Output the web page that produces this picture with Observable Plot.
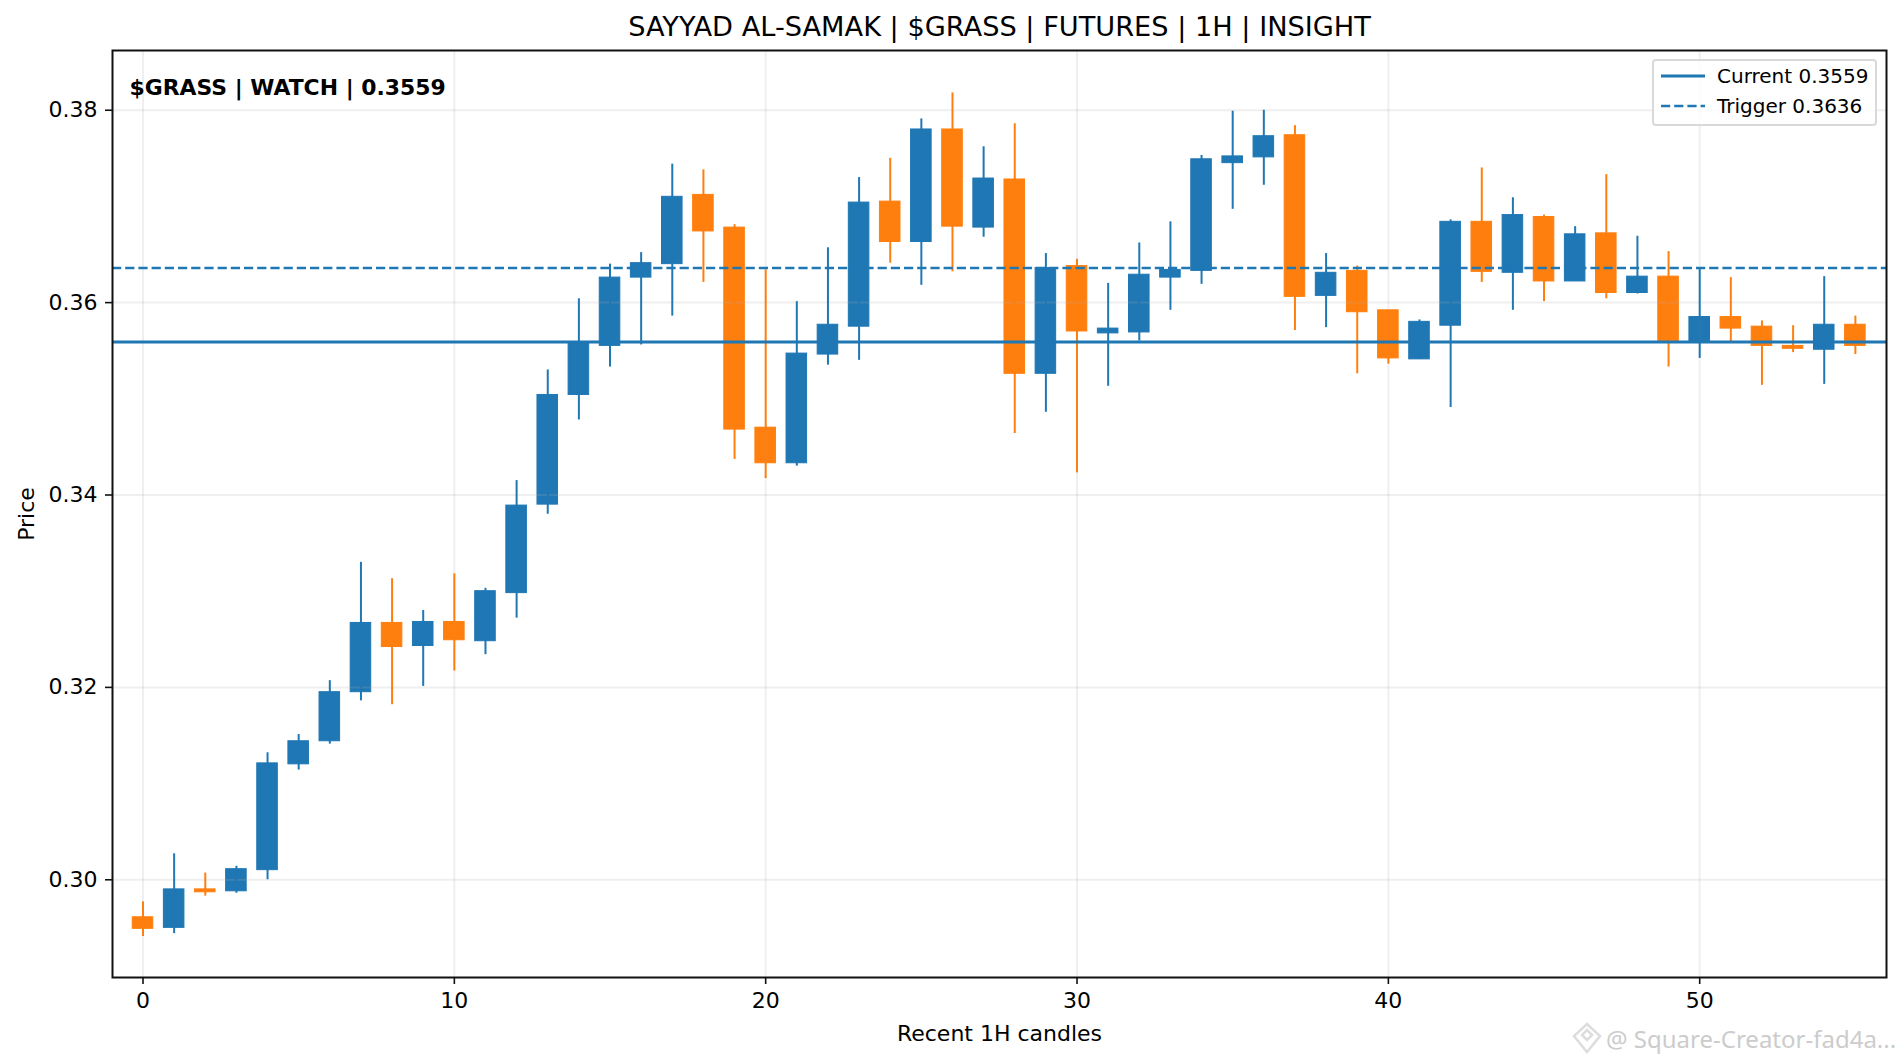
<!DOCTYPE html>
<html>
<head>
<meta charset="utf-8">
<script src="https://cdn.jsdelivr.net/npm/d3@7"></script>
<script src="https://cdn.jsdelivr.net/npm/@observablehq/plot@0.6"></script>
<style>
  html, body { margin: 0; padding: 0; background: #fff; }
  #stage { position: relative; width: 1902px; height: 1063px; overflow: hidden; font-family: "DejaVu Sans", sans-serif; }
  #legend { position: absolute; left: 1652px; top: 59px; width: 225px; height: 67px; box-sizing: border-box;
    border: 2px solid #d9d9d9; border-radius: 4px; background: rgba(255,255,255,0.8); font-size: 20px; color: #000; }
  #legend .row { position: absolute; left: 0; display: flex; align-items: center; height: 30px; }
  #legend svg { margin-left: 7px; margin-right: 12px; }
  #mark { position: absolute; left: 1572px; top: 1022px; height: 32px; display: flex; align-items: center; gap: 4px;
    color: #cccccc; font-family: "Noto Sans", sans-serif; font-size: 24px; white-space: nowrap; }
</style>
</head>
<body>
<div id="stage">
  <div id="chart"></div>
  <div id="legend">
    <div class="row" style="top:0px"><svg width="44" height="6"><line x1="0" x2="44" y1="3" y2="3" stroke="#1f77b4" stroke-width="3"/></svg><span>Current 0.3559</span></div>
    <div class="row" style="top:30px"><svg width="44" height="6"><line x1="0" x2="44" y1="3" y2="3" stroke="#1f77b4" stroke-width="2.4" stroke-dasharray="9.2,4"/></svg><span>Trigger 0.3636</span></div>
  </div>
  <div id="mark"><svg width="30" height="32" viewBox="0 0 30 32"><path d="M15 2 L28 14 L15 30 L2 14 Z M15 8 L20 13 L15 18 L10 13 Z" fill="none" stroke="#dddddd" stroke-width="2.5"/></svg><span>@ Square-Creator-fad4a...</span></div>
</div>
<script>
const high = [.2977,.3027,.3007,.3014,.3132,.3151,.3207,.3330,.3313,.3280,.3318,.3303,.3415,.3530,.3604,.3640,.3652,.3744,.3738,.3681,.3634,.3601,.3657,.3730,.3750,.3791,.3818,.3762,.3786,.3651,.3645,.3620,.3662,.3684,.3753,.3799,.3800,.3784,.3651,.3638,.3592,.3582,.3686,.3740,.3709,.3691,.3679,.3733,.3669,.3653,.3635,.3626,.3581,.3576,.3627,.3586];
const low = [.2941,.2944,.2983,.2986,.3000,.3114,.3141,.3186,.3182,.3201,.3217,.3234,.3272,.3380,.3478,.3533,.3556,.3586,.3621,.3437,.3417,.3430,.3535,.3540,.3641,.3618,.3632,.3668,.3464,.3486,.3423,.3513,.3560,.3592,.3619,.3697,.3722,.3571,.3574,.3526,.3536,.3541,.3491,.3621,.3592,.3601,.3622,.3604,.3609,.3533,.3542,.3558,.3514,.3548,.3515,.3546];
const bodyTop = [.2961,.2990,.2990,.3011,.3121,.3144,.3195,.3267,.3267,.3268,.3268,.3300,.3389,.3504,.3558,.3626,.3641,.3710,.3712,.3678,.3470,.3547,.3577,.3704,.3705,.3780,.3780,.3729,.3728,.3636,.3638,.3573,.3629,.3634,.3749,.3752,.3773,.3774,.3631,.3633,.3592,.3580,.3684,.3684,.3691,.3689,.3671,.3672,.3627,.3627,.3585,.3585,.3575,.3555,.3577,.3577];
const bodyBottom = [.2949,.2950,.2987,.2988,.3010,.3120,.3144,.3195,.3242,.3243,.3249,.3248,.3298,.3390,.3504,.3555,.3626,.3640,.3674,.3468,.3433,.3433,.3546,.3575,.3663,.3663,.3679,.3678,.3526,.3526,.3570,.3568,.3569,.3626,.3633,.3745,.3751,.3606,.3607,.3590,.3542,.3541,.3576,.3632,.3631,.3622,.3622,.3610,.3610,.3560,.3558,.3573,.3555,.3552,.3551,.3555];
const direction = ["d","u","d","u","u","u","u","u","d","u","d","u","u","u","u","u","u","u","d","d","d","u","u","u","d","u","d","u","d","u","d","u","u","u","u","u","u","d","u","d","d","u","u","d","u","d","u","d","u","d","u","d","d","d","u","d"];
const xTicks = [0, 10, 20, 30, 40, 50];
const yTicks = [0.30, 0.32, 0.34, 0.36, 0.38];
const currentPrice = 0.3559;
const triggerPrice = 0.3636;
const titleText = "SAYYAD AL-SAMAK | $GRASS | FUTURES | 1H | INSIGHT";
const noteText = "$GRASS | WATCH | 0.3559";

const candles = high.map((h, i) => ({i, high: h, low: low[i], top: bodyTop[i], bottom: bodyBottom[i], dir: direction[i]}));
const gridStyle = {stroke: "#b0b0b0", strokeOpacity: 0.2, strokeWidth: 2};

const plot = Plot.plot({
  width: 1902, height: 1063,
  marginLeft: 112, marginRight: 16, marginTop: 50, marginBottom: 86,
  style: {fontFamily: "'DejaVu Sans', sans-serif", fontSize: "22px", color: "#000", background: "#fff"},
  x: {domain: [-0.98, 56]},
  y: {domain: [0.28984, 0.38621]},
  color: {domain: ["u", "d"], range: ["#1f77b4", "#ff7f0e"]},
  marks: [
    Plot.rect(candles, {x1: d => d.i - 0.33, x2: d => d.i + 0.33, y1: "bottom", y2: "top", fill: "dir", stroke: "dir", strokeWidth: 1}),
    Plot.gridX(xTicks, gridStyle),
    Plot.gridY(yTicks, gridStyle),
    Plot.ruleX(candles, {x: "i", y1: "low", y2: "high", stroke: "dir", strokeWidth: 2}),
    Plot.ruleY([currentPrice], {stroke: "#1f77b4", strokeWidth: 3}),
    Plot.ruleY([triggerPrice], {stroke: "#1f77b4", strokeWidth: 2.4, strokeDasharray: "9.2,4"}),
    Plot.frame({stroke: "#111", strokeWidth: 2}),
    Plot.axisX({ticks: xTicks, tickFormat: d3.format("d"), tickSize: 7, tickPadding: 8, stroke: "#111", strokeWidth: 1.6, label: "Recent 1H candles", labelAnchor: "center", labelArrow: "none", labelOffset: 63}),
    Plot.axisY({ticks: yTicks, tickFormat: d3.format(".2f"), tickSize: 7, tickPadding: 8, stroke: "#111", strokeWidth: 1.6, label: "Price", labelAnchor: "center", labelArrow: "none", labelOffset: 94}),
    Plot.text([titleText], {frameAnchor: "top", dy: -23, lineAnchor: "middle", fontSize: 27.2, fill: "#000"}),
    Plot.text([noteText], {frameAnchor: "top-left", dx: 17, dy: 37, lineAnchor: "middle", textAnchor: "start", fontSize: 21.9, fontWeight: "bold", fill: "#000"})
  ]
});
document.getElementById("chart").appendChild(plot);
</script>
</body>
</html>
